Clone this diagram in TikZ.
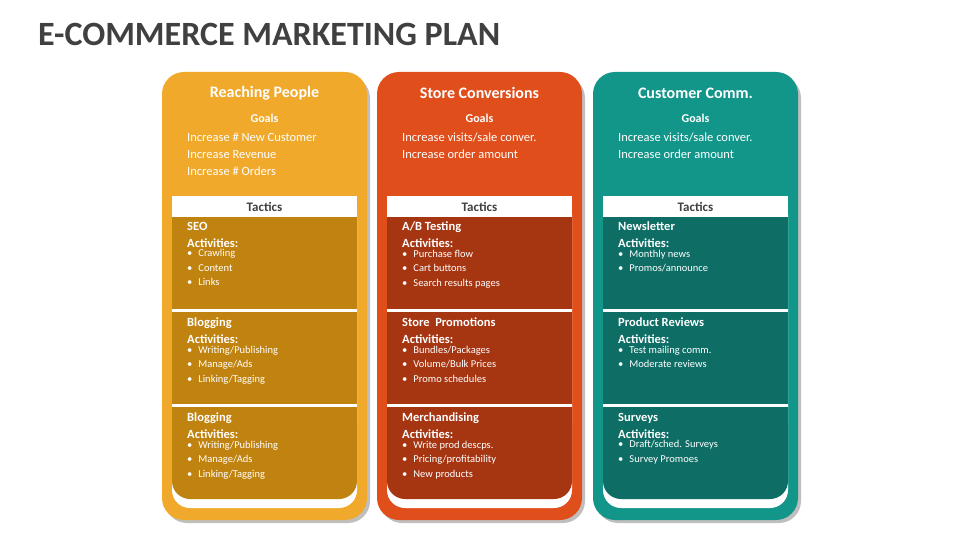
\documentclass[tikz,border=0pt]{standalone}
\usepackage{fontspec}
\setmainfont{Carlito}
\definecolor{oOut}{HTML}{F0A92A}\definecolor{oIn}{HTML}{C1830F}
\definecolor{rOut}{HTML}{E04E1B}\definecolor{rIn}{HTML}{A63512}
\definecolor{tOut}{HTML}{13968A}\definecolor{tIn}{HTML}{0E6E66}
\definecolor{ttl}{HTML}{404040}
\tikzset{
 hd/.style={font=\bfseries\fontsize{16}{18}\selectfont,text=white},
 gl/.style={font=\bfseries\fontsize{12}{14}\selectfont,text=white},
 gx/.style={font=\fontsize{12.5}{17}\selectfont,text=white,anchor=north west,align=left,inner sep=0},
 tac/.style={font=\bfseries\fontsize{13}{15}\selectfont,text=ttl},
 pt/.style={font=\bfseries\fontsize{12.5}{17}\selectfont,text=white,anchor=north west,align=left,inner sep=0},
}
\newcommand{\mycol}[9]{%
 \begin{scope}[xshift=#1pt]
 \fill[black!25,rounded corners=22pt] (3,76) rectangle (208,523);
 \fill[#2,rounded corners=22pt] (0,72) rectangle (205,520);
 \fill[white,rounded corners=18pt] (10,196) -- (10,508) -- (195,508) -- (195,196) -- cycle;
 \fill[white] (10,196) rectangle (195,230);
 \fill[#3] (10,217) rectangle (195,309);
 \fill[#3] (10,312) rectangle (195,404);
 \fill[#3,rounded corners=18pt] (10,407) -- (10,499) -- (195,499) -- (195,407) -- cycle;
 \fill[#3] (10,407) rectangle (195,440);
 \node[hd] (h#9) at (102.5,93) {#4};
 \node[gl] (g#9) at (102.5,118) {Goals};
 \node[gx] (gx#9) at (25,133) {#5};
 \node[tac] (ta#9) at (102.5,207) {Tactics};
 \node[pt] (pa#9) at (25,222) {#6};
 \node[pt] (pb#9) at (25,318) {#7};
 \node[pt] (pc#9) at (25,413) {#8};
 \end{scope}}
\newcommand{\panel}[2]{#1\\Activities:\\[-2pt]{\normalfont\fontsize{10.5}{14.5}\selectfont\begin{tabular}{@{}l@{\hspace{6pt}}l@{}}#2\end{tabular}}}
\newcommand{\bu}{\textbullet}
\begin{document}
\begin{tikzpicture}[x=1pt,y=-1pt]
\useasboundingbox (0,0) rectangle (960,540);
\fill[white] (0,0) rectangle (960,540);
\node[anchor=west,font=\bfseries\fontsize{34}{36}\selectfont,text=ttl,inner sep=0] (title) at (38,34) {E-COMMERCE MARKETING PLAN};
\mycol{162}{oOut}{oIn}{Reaching People}{Increase \# New Customer\\Increase Revenue\\Increase \# Orders}
 {\panel{SEO}{\bu&Crawling\\\bu&Content\\\bu&Links}}
 {\panel{Blogging}{\bu&Writing/Publishing\\\bu&Manage/Ads\\\bu&Linking/Tagging}}
 {\panel{Blogging}{\bu&Writing/Publishing\\\bu&Manage/Ads\\\bu&Linking/Tagging}}{a}
\mycol{377}{rOut}{rIn}{Store Conversions}{Increase visits/sale conver.\\Increase order amount}
 {\panel{A/B Testing}{\bu&Purchase flow\\\bu&Cart buttons\\\bu&Search results pages}}
 {\panel{Store\ \ Promotions}{\bu&Bundles/Packages\\\bu&Volume/Bulk Prices\\\bu&Promo schedules}}
 {\panel{Merchandising}{\bu&Write prod descps.\\\bu&Pricing/profitability\\\bu&New products}}{b}
\mycol{593}{tOut}{tIn}{Customer Comm.}{Increase visits/sale conver.\\Increase order amount}
 {\panel{Newsletter}{\bu&Monthly news\\\bu&Promos/announce}}
 {\panel{Product Reviews}{\bu&Test mailing comm.\\\bu&Moderate reviews}}
 {\panel{Surveys}{\bu&Draft/sched. Surveys\\\bu&Survey Promoes}}{c}
\end{tikzpicture}
\end{document}
